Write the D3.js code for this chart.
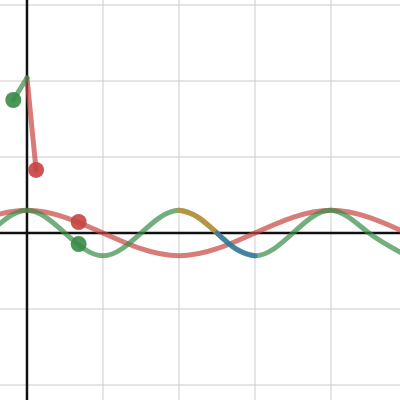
<!DOCTYPE html>
<html><head><meta charset="utf-8">
<script src="https://cdn.jsdelivr.net/npm/d3@7"></script>
<style>body{margin:0;background:#fff}</style></head>
<body><svg id="c" width="400" height="400"></svg>
<script>
// data (graph units)
const gridTicksX = [-1,0,1,2,3,4,5];
const gridTicksY = [-3,-2,-1,0,1,2,3];
const greenX = [-0.5,0,0.5,1,1.5,2,2.5,3,3.5,4,4.5,5];
const greenY = [0,0.3,0,-0.3,0,0.3,0,-0.3,0,0.3,0,-0.3];
const redX = [-1,0,1,2,3,4,5];
const redY = [0,0.3,0,-0.3,0,0.3,0];
const orangeX = [2,2.25,2.5];
const orangeY = [0.3,0.212,0];
const blueX = [2.5,2.75,3];
const blueY = [0,-0.212,-0.3];
const redPathX = [0,0.12];
const redPathY = [2.04,0.83];
const greenPathX = [-0.18,0];
const greenPathY = [1.75,2.04];
const dotX = [-0.18,0.12,0.68,0.68];
const dotY = [1.75,0.83,0.145,-0.145];
const dotC = ["green","red","red","green"];

const colors = {red:"#c74440",green:"#388c46",orange:"#d4892a",blue:"#2d70b3"};
const svg = d3.select("#c");
const x = d3.scaleLinear().domain([-0.355,4.908]).range([0,400]);
const y = d3.scaleLinear().domain([3.066,-2.197]).range([0,400]);

svg.append("g").selectAll("line").data(gridTicksX).join("line")
  .attr("x1",d=>x(d)).attr("x2",d=>x(d)).attr("y1",0).attr("y2",400)
  .attr("stroke","#ccc").attr("stroke-width",1);
svg.append("g").selectAll("line").data(gridTicksY).join("line")
  .attr("y1",d=>y(d)).attr("y2",d=>y(d)).attr("x1",0).attr("x2",400)
  .attr("stroke","#ccc").attr("stroke-width",1);
svg.append("line").attr("x1",x(0)).attr("x2",x(0)).attr("y1",0).attr("y2",400).attr("stroke","#111").attr("stroke-width",2.5);
svg.append("line").attr("y1",y(0)).attr("y2",y(0)).attr("x1",0).attr("x2",400).attr("stroke","#111").attr("stroke-width",2.5);

const curve = d3.line().x(d=>x(d[0])).y(d=>y(d[1])).curve(d3.curveNatural);
const straight = d3.line().x(d=>x(d[0])).y(d=>y(d[1]));
function draw(xs,ys,c,gen){
  svg.append("path").attr("d",gen(xs.map((v,i)=>[v,ys[i]])))
    .attr("fill","none").attr("stroke",colors[c]).attr("stroke-width",5)
    .attr("stroke-opacity",0.7).attr("stroke-linecap","round").attr("stroke-linejoin","round");
}
draw(redX,redY,"red",curve);
draw(greenX,greenY,"green",curve);
draw(orangeX,orangeY,"orange",curve);
draw(blueX,blueY,"blue",curve);
draw(redPathX,redPathY,"red",straight);
draw(greenPathX,greenPathY,"green",straight);
svg.append("g").selectAll("circle").data(dotX).join("circle")
  .attr("cx",d=>x(d)).attr("cy",(d,i)=>y(dotY[i])).attr("r",8)
  .attr("fill",(d,i)=>colors[dotC[i]]).attr("fill-opacity",0.9);
</script></body></html>
